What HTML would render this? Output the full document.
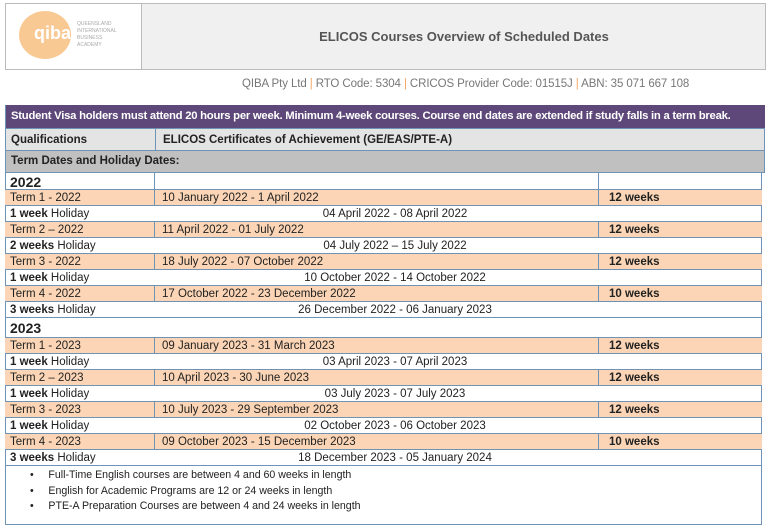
<!DOCTYPE html>
<html><head><style>
body{margin:0;width:768px;height:528px;background:#fff;position:relative;font-family:"Liberation Sans",sans-serif;overflow:hidden;color:#222}
.a{position:absolute;box-sizing:border-box}
.r{position:absolute;left:5px;width:757px;height:16px;box-sizing:border-box;font-size:11.5px;line-height:16px;border-bottom:1px solid #6f93b4}
.o{background:#fbd5b5}
.c1{position:absolute;left:5px}
.c2{position:absolute;left:157px}
.c3{position:absolute;left:604px;font-weight:bold}
.v1{position:absolute;left:149px;top:0;bottom:0;border-left:1px solid #6f93b4}
.v2{position:absolute;left:593px;top:0;bottom:0;border-left:1px solid #6f93b4}
.ctr{position:absolute;left:0;width:780px;text-align:center}
</style></head><body>
<div class="a" style="left:5px;top:3px;width:761px;height:67px;border:1px solid #bbb;background:#f0f0f0"></div>
<div class="a" style="left:6px;top:4px;width:136px;height:65px;background:#fff;border-right:1px solid #bbb"></div>
<div class="a" style="left:19px;top:11px;width:52px;height:48px;border-radius:50%;background:#f9c994"></div>
<div class="a" style="left:34px;top:23px;color:#fff;font-size:18px;font-weight:bold">qiba</div>
<div class="a" style="left:77px;top:21px;font-size:5px;line-height:7px;color:#aaa">QUEENSLAND<br>INTERNATIONAL<br>BUSINESS<br>ACADEMY</div>
<div class="a" style="left:152px;top:29px;width:624px;text-align:center;font-size:13px;font-weight:bold;color:#555">ELICOS Courses Overview of Scheduled Dates</div>
<div class="a" style="left:242px;top:78px;font-size:11.5px;color:#777;letter-spacing:-0.1px">QIBA Pty Ltd <span style="color:#f4a460">|</span> RTO Code: 5304 <span style="color:#f4a460">|</span> CRICOS Provider Code: 01515J <span style="color:#f4a460">|</span> ABN: 35 071 667 108</div>
<div class="a" style="left:5px;top:105px;width:760px;height:23px;background:#5e4879;color:#fff;font-weight:bold;font-size:11.3px;letter-spacing:-0.25px;line-height:23px;padding-left:6px;white-space:nowrap;overflow:hidden">Student Visa holders must attend 20 hours per week. Minimum 4-week courses. Course end dates are extended if study falls in a term break.</div>
<div class="a" style="left:5px;top:128px;width:760px;height:23px;background:#e4e4e4;border:1px solid #6f93b4;font-weight:bold;font-size:11.5px;line-height:22px">
<span style="position:absolute;left:5px">Qualifications</span><div class="v1"></div><span style="position:absolute;left:157px">ELICOS Certificates of Achievement (GE/EAS/PTE-A)</span></div>
<div class="a" style="left:5px;top:151px;width:760px;height:22px;background:#c0c0c0;border:1px solid #6f93b4;border-top:0;font-weight:bold;font-size:11.5px;line-height:21px;padding-left:5px">Term Dates and Holiday Dates:</div>
<div class="a" style="left:5px;top:105px;width:1px;height:420px;background:#6f93b4"></div>
<div class="a" style="left:761px;top:173px;width:1px;height:352px;background:#6f93b4"></div>

<div class="r" style="top:173px;height:17px;font-size:14px;font-weight:bold;line-height:18px"><span class="c1">2022</span><div class="v1"></div><div class="v2"></div></div>
<div class="r o" style="top:190px"><span class="c1">Term 1 - 2022</span><div class="v1"></div><span class="c2">10 January 2022 - 1 April 2022</span><div class="v2"></div><span class="c3">12 weeks</span></div>
<div class="r" style="top:206px"><span class="c1"><b>1 week</b> Holiday</span><span class="ctr">04 April 2022 - 08 April 2022</span></div>
<div class="r o" style="top:222px"><span class="c1">Term 2 – 2022</span><div class="v1"></div><span class="c2">11 April 2022 - 01 July 2022</span><div class="v2"></div><span class="c3">12 weeks</span></div>
<div class="r" style="top:238px"><span class="c1"><b>2 weeks</b> Holiday</span><span class="ctr">04 July 2022 – 15 July 2022</span></div>
<div class="r o" style="top:254px"><span class="c1">Term 3 - 2022</span><div class="v1"></div><span class="c2">18 July 2022 - 07 October 2022</span><div class="v2"></div><span class="c3">12 weeks</span></div>
<div class="r" style="top:270px"><span class="c1"><b>1 week</b> Holiday</span><span class="ctr">10 October 2022 - 14 October 2022</span></div>
<div class="r o" style="top:286px"><span class="c1">Term 4 - 2022</span><div class="v1"></div><span class="c2">17 October 2022 - 23 December 2022</span><div class="v2"></div><span class="c3">10 weeks</span></div>
<div class="r" style="top:302px"><span class="c1"><b>3 weeks</b> Holiday</span><span class="ctr">26 December 2022 - 06 January 2023</span></div>
<div class="r" style="top:318px;height:20px;font-size:14px;font-weight:bold;line-height:21px"><span class="c1">2023</span></div>
<div class="r o" style="top:338px"><span class="c1">Term 1 - 2023</span><div class="v1"></div><span class="c2">09 January 2023 - 31 March 2023</span><div class="v2"></div><span class="c3">12 weeks</span></div>
<div class="r" style="top:354px"><span class="c1"><b>1 week</b> Holiday</span><span class="ctr">03 April 2023 - 07 April 2023</span></div>
<div class="r o" style="top:370px"><span class="c1">Term 2 – 2023</span><div class="v1"></div><span class="c2">10 April 2023 - 30 June 2023</span><div class="v2"></div><span class="c3">12 weeks</span></div>
<div class="r" style="top:386px"><span class="c1"><b>1 week</b> Holiday</span><span class="ctr">03 July 2023 - 07 July 2023</span></div>
<div class="r o" style="top:402px"><span class="c1">Term 3 - 2023</span><div class="v1"></div><span class="c2">10 July 2023 - 29 September 2023</span><div class="v2"></div><span class="c3">12 weeks</span></div>
<div class="r" style="top:418px"><span class="c1"><b>1 week</b> Holiday</span><span class="ctr">02 October 2023 - 06 October 2023</span></div>
<div class="r o" style="top:434px"><span class="c1">Term 4 - 2023</span><div class="v1"></div><span class="c2">09 October 2023 - 15 December 2023</span><div class="v2"></div><span class="c3">10 weeks</span></div>
<div class="r" style="top:450px"><span class="c1"><b>3 weeks</b> Holiday</span><span class="ctr">18 December 2023 - 05 January 2024</span></div>
<div class="a" style="left:30px;top:468px;font-size:10.6px;line-height:15.5px">
<div>•&nbsp;&nbsp;&nbsp;&nbsp;&nbsp;Full-Time English courses are between 4 and 60 weeks in length</div>
<div>•&nbsp;&nbsp;&nbsp;&nbsp;&nbsp;English for Academic Programs are 12 or 24 weeks in length</div>
<div>•&nbsp;&nbsp;&nbsp;&nbsp;&nbsp;PTE-A Preparation Courses are between 4 and 24 weeks in length</div></div>
<div class="a" style="left:5px;top:524px;width:757px;height:1px;background:#6f93b4"></div>
</body></html>
